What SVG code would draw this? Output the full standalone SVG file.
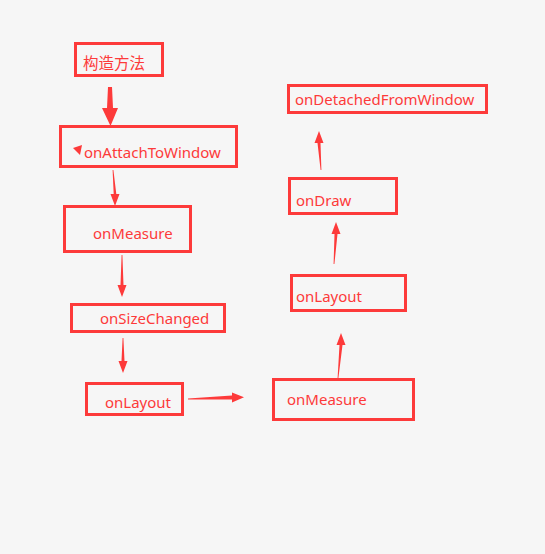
<svg xmlns="http://www.w3.org/2000/svg" width="545" height="554" viewBox="0 0 545 554">
<style>
.box{fill:none;stroke:#fd3a3a;stroke-width:3}
.t{fill:#fd3a3a;font-family:"Noto Sans","Noto Sans CJK SC",sans-serif;font-size:15px}
.a{fill:#fd3a3a}
</style>
<rect width="545" height="554" fill="#f6f6f6"/>
<g id="n1"><rect class="box" x="75.5" y="43.5" width="87" height="32"/><text class="t" x="83" y="69" style="font-size:15.5px">构造方法</text></g>
<g id="n2"><rect class="box" x="60.5" y="126.5" width="176" height="40"/><polygon class="a" points="73,148 82,145 80,155"/><text class="t" x="84" y="158">onAttachToWindow</text></g>
<g id="n3"><rect class="box" x="64.5" y="206.5" width="126" height="45"/><text class="t" x="93" y="239">onMeasure</text></g>
<g id="n4"><rect class="box" x="71.5" y="304.5" width="153" height="27"/><text class="t" x="100" y="324">onSizeChanged</text></g>
<g id="n5"><rect class="box" x="86.5" y="383.5" width="96" height="31"/><text class="t" x="105" y="408">onLayout</text></g>
<g id="n6"><rect class="box" x="273.5" y="379.5" width="140" height="40"/><text class="t" x="287" y="405">onMeasure</text></g>
<g id="n7"><rect class="box" x="291.5" y="275.5" width="114" height="35"/><text class="t" x="296" y="302">onLayout</text></g>
<g id="n8"><rect class="box" x="289.5" y="178.5" width="107" height="35"/><text class="t" x="296" y="206">onDraw</text></g>
<g id="n9"><rect class="box" x="288.5" y="85.5" width="198" height="27"/><text class="t" x="295" y="105">onDetachedFromWindow</text></g>
<g id="connectors">
<path class="a" d="M108,87 L112,87 L113,108 L118,108 L110.5,126 L102,108 L107,108 Z"/>
<path class="a" d="M112.6,170 L113.4,170 L116.3,194 L119.5,194 L115,206 L110.5,194 L113.7,194 Z"/>
<path class="a" d="M121.6,255 L122.4,255 L123.5,285 L126.5,285 L122,297 L117.5,285 L120.5,285 Z"/>
<path class="a" d="M122.6,338 L123.4,338 L124.5,361 L127.5,361 L123,373 L118.5,361 L121.5,361 Z"/>
<path class="a" d="M188,398.6 L188,399.4 L232,399.5 L232,402.5 L244,397.2 L232,392.5 L232,395.5 Z"/>
<path class="a" d="M337.6,378 L338.4,378 L342.5,345 L345.5,345 L341,333 L336.5,345 L339.5,345 Z"/>
<path class="a" d="M333.6,264 L334.4,264 L337.5,234 L340.5,234 L336,222 L331.5,234 L334.5,234 Z"/>
<path class="a" d="M320.6,170 L321.4,170 L320.5,143 L323.5,143 L319,131 L314.5,143 L317.5,143 Z"/>
</g>
</svg>
